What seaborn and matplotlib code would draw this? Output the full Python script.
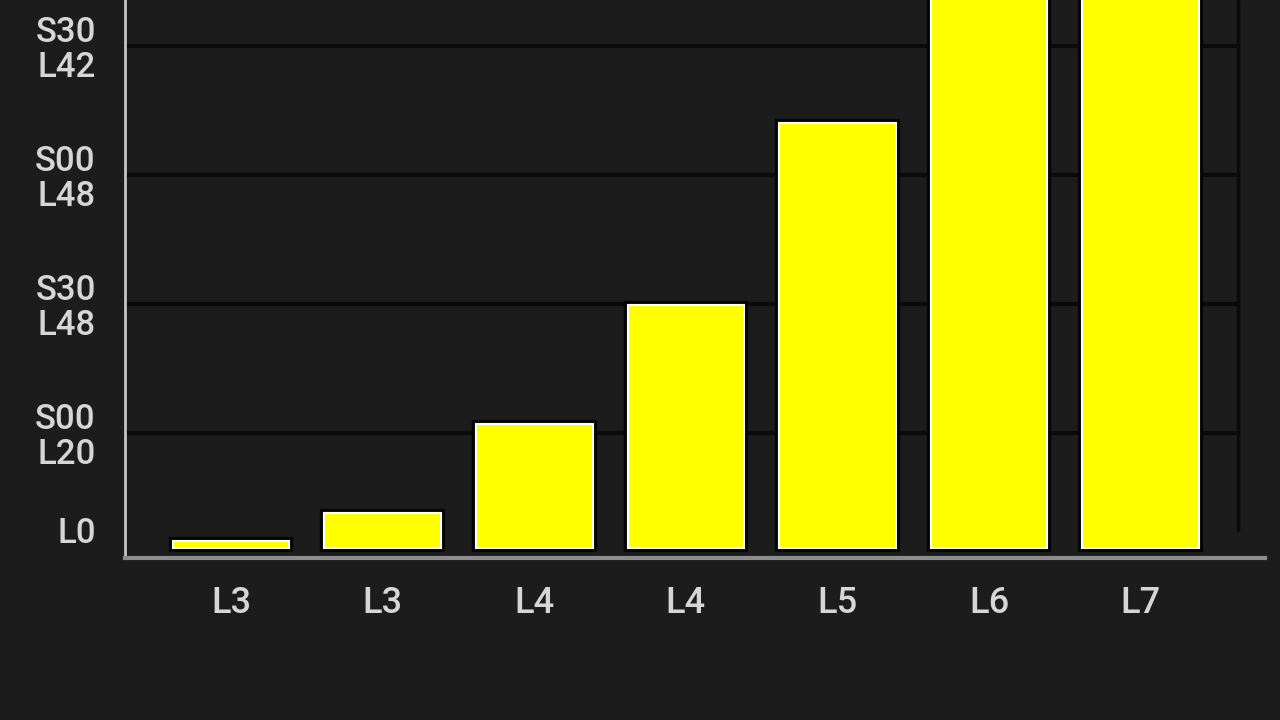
import matplotlib
matplotlib.use("Agg")
import matplotlib.pyplot as plt
import matplotlib.patheffects as pe
import pandas as pd
import seaborn as sns

# ---------------------------------------------------------------------------
# Data
# ---------------------------------------------------------------------------
BAR_LABELS = ['L3', 'L3', 'L4', 'L4', 'L5', 'L6', 'L7']
BAR_HEIGHTS = [0.05, 0.27, 0.96, 1.88, 3.29, 4.5, 4.7]
BAR_BASE = 0.11
Y_TICKS = [0.25, 1, 2, 3, 4]
Y_TICK_LABELS = ['L0', 'S00\nL20', 'S30\nL48', 'S00\nL48', 'S30\nL42']

BG = '#1c1c1c'
TEXT = '#d6d6d6'

df = pd.DataFrame({'pos': range(len(BAR_HEIGHTS)), 'value': BAR_HEIGHTS})

sns.set_style('dark')
plt.rcParams['font.family'] = ['Roboto', 'DejaVu Sans']
plt.rcParams['font.weight'] = 'medium'

fig = plt.figure(figsize=(12.8, 7.2), dpi=100, facecolor=BG)
ax = fig.add_axes([125 / 1280, 1 - 558 / 720, 1140 / 1280, 558 / 720])
ax.set_facecolor(BG)

sns.barplot(data=df, x='pos', y='value', color='#ffff00', saturation=1, width=0.77,
            edgecolor='white', linewidth=1.5, bottom=BAR_BASE, ax=ax)
for bar in ax.patches:
    bar.set_path_effects([pe.Stroke(linewidth=6, foreground='#050505'), pe.Normal()])
    bar.set_zorder(3)

ax.set_xlim(-0.70, 6.82)
ax.set_ylim(0.031, 4.356)

# gridlines, stopping at the dark vertical line on the right
for v in Y_TICKS[1:]:
    ax.axhline(v, xmin=0, xmax=0.975, color='#0a0a0a', lw=3, zorder=1)
ax.axvline(6.64, ymin=0.05, ymax=1, color='#0a0a0a', lw=2.5, zorder=1)
ax.grid(False)

ax.set_yticks(Y_TICKS)
ax.set_yticklabels(Y_TICK_LABELS, linespacing=1.05)
ax.set_xticks(range(len(BAR_LABELS)))
ax.set_xticklabels(BAR_LABELS)
ax.tick_params(axis='y', length=0, pad=21, labelsize=25, labelcolor=TEXT)
ax.tick_params(axis='x', length=0, pad=20, labelsize=26, labelcolor=TEXT)
ax.set_xlabel('')
ax.set_ylabel('')

for side in ['top', 'right']:
    ax.spines[side].set_visible(False)
ax.spines['left'].set_color('#c4c4c4')
ax.spines['left'].set_linewidth(2)
ax.spines['bottom'].set_color('#8c8c8c')
ax.spines['bottom'].set_linewidth(3)

fig.savefig('out.png', dpi=100, facecolor=BG)
